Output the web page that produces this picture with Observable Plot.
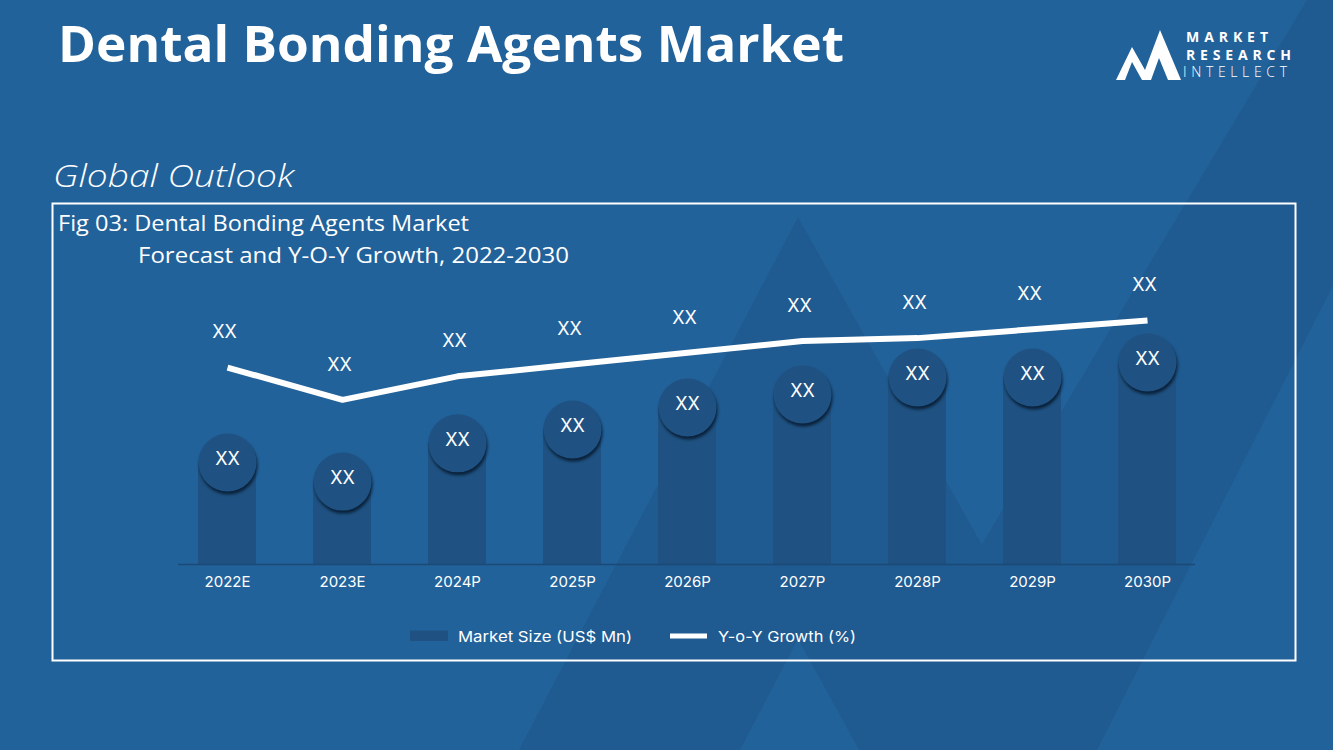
<!DOCTYPE html>
<html>
<head>
<meta charset="utf-8">
<script src="https://cdn.jsdelivr.net/npm/d3@7"></script>
<script src="https://cdn.jsdelivr.net/npm/@observablehq/plot@0.6"></script>
<style>
html, body { margin: 0; padding: 0; background: #22629a; }
#page { position: relative; width: 1333px; height: 750px; overflow: hidden; background: #22629a; font-family: "Open Sans", sans-serif; }
#bg { position: absolute; left: 0; top: 0; }
.plot { position: absolute; left: 0; top: 270px; }
.plot svg { overflow: visible; }
.plot g[aria-label="dot"] circle { filter: drop-shadow(1px 3px 1.5px rgba(6, 24, 44, 0.85)); }
</style>
</head>
<body>
<div id="page">
  <svg id="bg" width="1333" height="750" xmlns="http://www.w3.org/2000/svg">
    <rect x="0" y="0" width="1333" height="750" fill="#22629a"/>
    <g opacity="0.32" fill="#1a4c7c">
      <polygon points="798,217 519,750 740,750 798,639 859,750 1097,750"/>
      <polygon points="1307,0 1478,0 1097,750 859,750"/>
    </g>
    <!-- Title -->
    <text x="58" y="62" fill="#ffffff" font-family="'Open Sans', sans-serif" font-weight="700" font-size="51" textLength="786" lengthAdjust="spacingAndGlyphs">Dental Bonding Agents Market</text>
    <!-- Logo -->
    <path d="M1116,80 L1132,47 L1145,70 L1160,30 L1181,80 L1168,80 L1159,58 L1151,80 L1142,80 L1132,62 L1125,80 Z" fill="#ffffff"/>
    <text x="1186" y="42" fill="#ffffff" font-family="'Open Sans', sans-serif" font-weight="700" font-size="14" textLength="82" lengthAdjust="spacing">MARKET</text>
    <text x="1186" y="60" fill="#ffffff" font-family="'Open Sans', sans-serif" font-weight="700" font-size="14" textLength="105" lengthAdjust="spacing">RESEARCH</text>
    <text x="1183" y="77" fill="#ffffff" font-family="'Open Sans', sans-serif" font-weight="300" font-size="14" textLength="104" lengthAdjust="spacing">INTELLECT</text>
    <!-- Subtitle -->
    <text x="53" y="187" fill="#ffffff" font-family="'Open Sans', sans-serif" font-style="italic" font-weight="300" font-size="31" textLength="241" lengthAdjust="spacingAndGlyphs">Global Outlook</text>
    <!-- Box -->
    <rect x="52.5" y="203.5" width="1243" height="457" fill="none" stroke="#ffffff" stroke-width="2"/>
    <text x="58" y="231" fill="#ffffff" font-family="'Open Sans', sans-serif" font-size="21" textLength="411" lengthAdjust="spacingAndGlyphs">Fig 03: Dental Bonding Agents Market</text>
    <text x="138" y="263" fill="#ffffff" font-family="'Open Sans', sans-serif" font-size="21" textLength="431" lengthAdjust="spacingAndGlyphs">Forecast and Y-O-Y Growth, 2022-2030</text>
    <!-- Legend -->
    <rect x="410" y="630.5" width="38" height="10.5" fill="#1f5282"/>
    <text x="458" y="642" fill="#ffffff" font-family="Inter, sans-serif" font-size="15" font-weight="400" textLength="174" lengthAdjust="spacingAndGlyphs">Market Size (US$ Mn)</text>
    <rect x="670" y="633.5" width="37" height="5" fill="#ffffff"/>
    <text x="718" y="642" fill="#ffffff" font-family="Inter, sans-serif" font-size="15" font-weight="400" textLength="138" lengthAdjust="spacingAndGlyphs">Y-o-Y Growth (%)</text>
  </svg>
  <div id="bars" class="plot"></div>
  <div id="lines" class="plot"></div>
</div>
<script>
// ---- Data ----
const years = ["2022E", "2023E", "2024P", "2025P", "2026P", "2027P", "2028P", "2029P", "2030P"];
const marketSize = [34.7, 28.2, 41.2, 45.9, 53.4, 57.8, 63.6, 63.6, 68.7];
const marketLabels = ["XX", "XX", "XX", "XX", "XX", "XX", "XX", "XX", "XX"];
const growth = [6.7, 5.6, 6.4, 6.8, 7.2, 7.6, 7.7, 8.0, 8.3];
const growthLabels = ["XX", "XX", "XX", "XX", "XX", "XX", "XX", "XX", "XX"];

const barColor = "#1f5282";
const barData = years.map((y, i) => ({year: y, size: marketSize[i], label: marketLabels[i]}));
const lineData = years.map((y, i) => ({year: y, growth: growth[i], label: growthLabels[i]}));

const common = {
  width: 1333,
  height: 340,
  marginLeft: 178,
  marginRight: 138,
  marginTop: 0,
  marginBottom: 46,
  style: {background: "transparent", color: "white", fontFamily: "Inter, sans-serif", fontSize: "15px", overflow: "visible"}
};
const xScale = {type: "band", domain: years, paddingInner: 0.496, paddingOuter: 0.166, axis: null};

const bars = Plot.plot({
  ...common,
  x: xScale,
  y: {domain: [0, 100], axis: null},
  marks: [
    Plot.barY(barData, {x: "year", y: "size", fill: barColor}),
    Plot.ruleY([0], {stroke: "#1b4a76", strokeWidth: 1.5}),
    Plot.dot(barData, {x: "year", y: "size", r: 29, fill: barColor}),
    Plot.text(barData, {x: "year", y: "size", text: "label", dy: -3, fill: "white", fontSize: 18, fontWeight: 400}),
    Plot.axisX({tickSize: 0, tickPadding: 12, label: null, fontSize: 15, fontWeight: 400, fill: "white"})
  ]
});
document.getElementById("bars").appendChild(bars);

const lines = Plot.plot({
  ...common,
  x: xScale,
  y: {domain: [0, 10], axis: null},
  marks: [
    Plot.line(lineData, {x: "year", y: "growth", stroke: "white", strokeWidth: 6, strokeLinecap: "butt", strokeLinejoin: "miter"}),
    Plot.text(lineData, {x: "year", y: "growth", text: "label", dy: -35, dx: -3, fill: "white", fontSize: 18, fontWeight: 400})
  ]
});
document.getElementById("lines").appendChild(lines);
</script>
</body>
</html>
